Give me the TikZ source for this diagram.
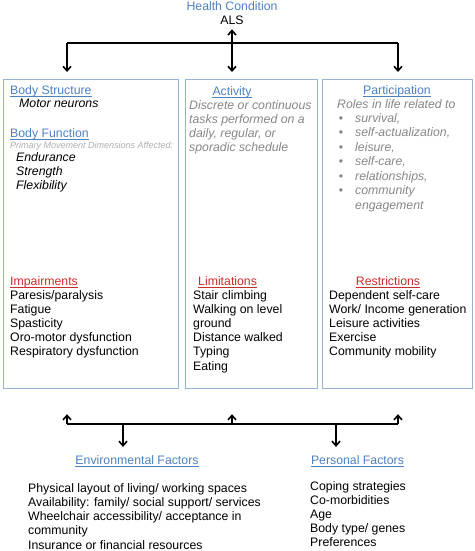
\documentclass[tikz,border=0pt]{standalone}
\usepackage{fontspec}
\setmainfont{Liberation Sans}
\usetikzlibrary{arrows.meta}
\definecolor{ttlblue}{RGB}{79,129,189}
\definecolor{ttlred}{RGB}{200,45,45}
\definecolor{descgrey}{RGB}{135,135,135}
\definecolor{smallgrey}{RGB}{175,175,175}
\definecolor{boxblue}{RGB}{150,178,212}
\tikzset{
  txt/.style={font=\fontsize{12.3}{14.2}\selectfont, inner sep=0pt, anchor=base west},
  ctxt/.style={txt, anchor=base},
  itxt/.style={txt, font=\fontsize{12.3}{14.2}\selectfont\itshape},
  desc/.style={itxt, text=descgrey},
  smalldesc/.style={txt, font=\fontsize{9}{10}\selectfont\itshape, text=smallgrey},
  bluettl/.style={text=ttlblue},
  redttl/.style={text=ttlred},
  ubar/.style={line width=0.8pt},
  panel/.style={draw=boxblue, line width=1.2pt, anchor=north west, inner sep=0pt},
  bar/.style={line width=1.6pt},
  arr/.style={line width=1.6pt, -{Straight Barb[length=4.5pt,width=8pt]}},
  dblarr/.style={line width=1.6pt, {Straight Barb[length=4.5pt,width=8pt]}-{Straight Barb[length=4.5pt,width=8pt]}},
}
\begin{document}
\begin{tikzpicture}[x=1pt,y=-1pt]
\useasboundingbox[fill=white] (0,0) rectangle (474,551);

% health condition
\node[ctxt, bluettl] (hc) at (232,11) {Health Condition};
\node[ctxt] (als) at (232,25) {ALS};

% panels
\node[panel, minimum width=175pt, minimum height=309pt] (box1) at (3,79) {};
\node[panel, minimum width=132pt, minimum height=309pt] (box2) at (185,79) {};
\node[panel, minimum width=150pt, minimum height=309pt] (box3) at (322,79) {};

% top connectors
\coordinate (tL) at (67,43);
\coordinate (tR) at (398,43);
\draw[bar] (tL) -- (tR);
\draw[arr, shorten >=7pt] (tL) -- (tL |- box1.north);
\draw[arr, shorten >=7pt] (tR) -- (tR |- box3.north);
\draw[dblarr, shorten <=4pt, shorten >=7pt] (als.south) -- (als.south |- box2.north);

% ---- box 1
\node[txt, bluettl] (bs) at (10,94) {Body Structure};
\draw[ubar, ttlblue] ([yshift=-2pt]bs.base west) -- ([yshift=-2pt]bs.base east);
\node[itxt] (mn) at (19,107.5) {Motor neurons};
\node[txt, bluettl] (bf) at (10,137) {Body Function};
\draw[ubar, ttlblue] ([yshift=-2pt]bf.base west) -- ([yshift=-2pt]bf.base east);
\node[smalldesc] (pm) at (10,148) {Primary Movement Dimensions Affected:};
\foreach \t [count=\i] in {Endurance, Strength, Flexibility}
  \node[itxt] (bfi\i) at (16,{146.8+14.2*\i}) {\t};
\node[txt, redttl] (imp) at (10,285) {Impairments};
\draw[ubar, ttlred] ([yshift=-2pt]imp.base west) -- ([yshift=-2pt]imp.base east);
\foreach \t [count=\i] in {Paresis/paralysis, Fatigue, Spasticity, Oro-motor dysfunction, Respiratory dysfunction}
  \node[txt] (impi\i) at (10,{284.8+14.2*\i}) {\t};

% ---- box 2
\node[ctxt, bluettl] (act) at (232,95) {Activity};
\draw[ubar, ttlblue] ([yshift=-2pt]act.base west) -- ([yshift=-2pt]act.base east);
\foreach \t [count=\i] in {Discrete or continuous, tasks performed on a, {daily, regular, or}, sporadic schedule}
  \node[desc] (actd\i) at (189,{94.7+14.3*\i}) {\t};
\node[txt, redttl] (lim) at (198,285) {Limitations};
\draw[ubar, ttlred] ([yshift=-2pt]lim.base west) -- ([yshift=-2pt]lim.base east);
\foreach \t [count=\i] in {Stair climbing, Walking on level, ground, Distance walked, Typing, Eating}
  \node[txt] (limi\i) at (193,{284.8+14.2*\i}) {\t};

% ---- box 3
\node[ctxt, bluettl] (par) at (397,94) {Participation};
\draw[ubar, ttlblue] ([yshift=-2pt]par.base west) -- ([yshift=-2pt]par.base east);
\node[desc] (roles) at (337,108) {Roles in life related to};
\foreach \t [count=\i] in {{survival,}, {self-actualization,}, {leisure,}, {self-care,}, {relationships,}, community}{
  \node[desc] (pari\i) at (355,{107.85+14.45*\i}) {\t};
  \node[ctxt, text=descgrey] (bul\i) at (341,{107.85+14.45*\i}) {\textbullet};
}
\node[desc] (pari7) at (355,209) {engagement};
\node[ctxt, redttl] (res) at (388,285) {Restrictions};
\draw[ubar, ttlred] ([yshift=-2pt]res.base west) -- ([yshift=-2pt]res.base east);
\foreach \t [count=\i] in {Dependent self-care, Work/ Income generation, Leisure activities, Exercise, Community mobility}
  \node[txt] (resi\i) at (329,{284.8+14.2*\i}) {\t};

% ---- bottom factors
\node[ctxt, bluettl] (env) at (137,464) {Environmental Factors};
\draw[ubar, ttlblue] ([yshift=-2pt]env.base west) -- ([yshift=-2pt]env.base east);
\node[ctxt, bluettl] (pers) at (357.5,464) {Personal Factors};
\draw[ubar, ttlblue] ([yshift=-2pt]pers.base west) -- ([yshift=-2pt]pers.base east);

\foreach \t [count=\i] in {Physical layout of living/ working spaces, Availability: family/ social support/ services, Wheelchair accessibility/ acceptance in, community, Insurance or financial resources}
  \node[txt] (envi\i) at (28,{478.1+14.2*\i}) {\t};
\foreach \t [count=\i] in {Coping strategies, Co-morbidities, Age, Body type/ genes, Preferences}
  \node[txt] (persi\i) at (310,{476+14*\i}) {\t};

% bottom connectors
\coordinate (bL) at (67,424);
\coordinate (bM) at (232,424);
\coordinate (bR) at (398,424);
\coordinate (bE) at (123,424);
\coordinate (bP) at (336,424);
\draw[bar] (bL) -- (bR);
\draw[arr, shorten >=25pt] (bL) -- (bL |- box1.south);
\draw[arr, shorten >=25pt] (bM) -- (bM |- box2.south);
\draw[arr, shorten >=25pt] (bR) -- (bR |- box3.south);
\draw[arr, shorten >=8pt] (bE) -- (bE |- env.north);
\draw[arr, shorten >=8pt] (bP) -- (bP |- pers.north);
\end{tikzpicture}
\end{document}
